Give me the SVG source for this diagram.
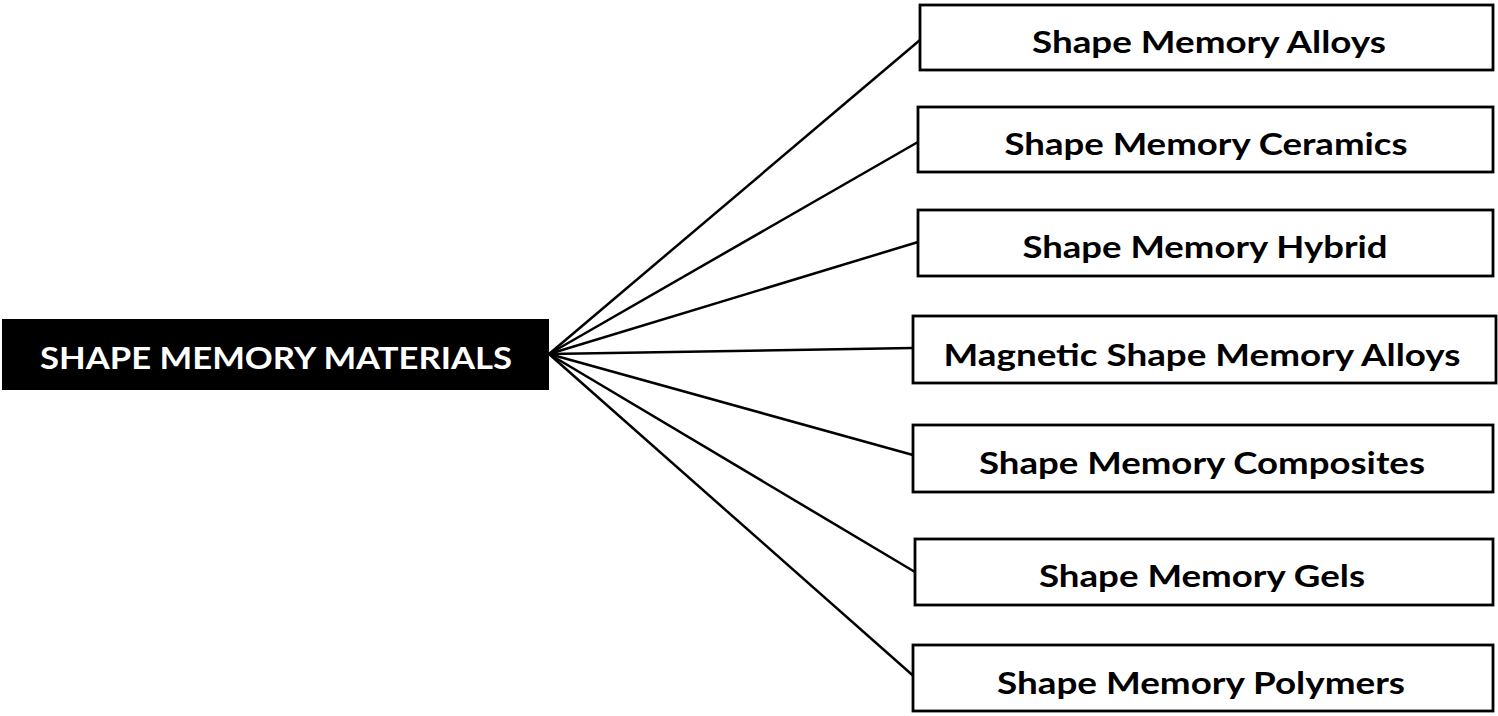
<svg xmlns="http://www.w3.org/2000/svg" width="1498" height="716" viewBox="0 0 1498 716">
<style>
.box{fill:#fff;stroke:#000;stroke-width:2.8}
.lbl{font-family:Lato,"Liberation Sans",sans-serif;font-weight:bold;font-size:31px;fill:#000;text-anchor:middle;dominant-baseline:central}
.root{font-family:Lato,"Liberation Sans",sans-serif;font-weight:bold;font-size:31px;fill:#fff;text-anchor:middle;dominant-baseline:central}
.conn{stroke:#000;stroke-width:2.5;fill:none}
</style>
<rect width="1498" height="716" fill="#fff"/>
<g id="connectors">
<line class="conn" x1="549" y1="354" x2="920" y2="40"/>
<line class="conn" x1="549" y1="354" x2="918" y2="142"/>
<line class="conn" x1="549" y1="354" x2="918" y2="242"/>
<line class="conn" x1="549" y1="354" x2="913" y2="348"/>
<line class="conn" x1="549" y1="354" x2="913" y2="455"/>
<line class="conn" x1="549" y1="354" x2="915" y2="572"/>
<line class="conn" x1="549" y1="354" x2="918" y2="680"/>
</g>
<g id="root">
<rect x="2" y="319" width="547" height="71" fill="#000"/>
<text class="root" x="276" y="357" textLength="472" lengthAdjust="spacingAndGlyphs">SHAPE MEMORY MATERIALS</text>
</g>
<g id="n1"><rect class="box" x="920" y="5" width="573" height="65"/><text class="lbl" x="1209" y="41" textLength="354" lengthAdjust="spacingAndGlyphs">Shape Memory Alloys</text></g>
<g id="n2"><rect class="box" x="918" y="107" width="575" height="65"/><text class="lbl" x="1206" y="143" textLength="403" lengthAdjust="spacingAndGlyphs">Shape Memory Ceramics</text></g>
<g id="n3"><rect class="box" x="918" y="210" width="575" height="66"/><text class="lbl" x="1205" y="246" textLength="365" lengthAdjust="spacingAndGlyphs">Shape Memory Hybrid</text></g>
<g id="n4"><rect class="box" x="913" y="316" width="583" height="67"/><text class="lbl" x="1202" y="354" textLength="517" lengthAdjust="spacingAndGlyphs">Magnetic Shape Memory Alloys</text></g>
<g id="n5"><rect class="box" x="913" y="425" width="580" height="67"/><text class="lbl" x="1202" y="462" textLength="446" lengthAdjust="spacingAndGlyphs">Shape Memory Composites</text></g>
<g id="n6"><rect class="box" x="915" y="539" width="578" height="66"/><text class="lbl" x="1202" y="575" textLength="326" lengthAdjust="spacingAndGlyphs">Shape Memory Gels</text></g>
<g id="n7"><rect class="box" x="913" y="645" width="580" height="66"/><text class="lbl" x="1201" y="682" textLength="408" lengthAdjust="spacingAndGlyphs">Shape Memory Polymers</text></g>
</svg>
